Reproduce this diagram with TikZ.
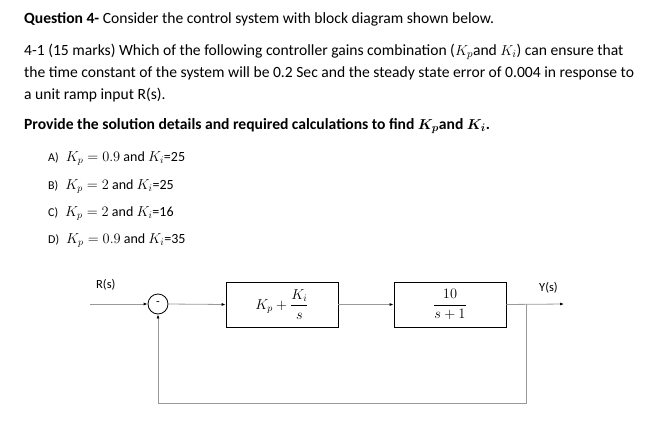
\documentclass[tikz,border=0pt]{standalone}
\usepackage{amsmath,bm}
\usepackage{fontspec}
\setmainfont{Carlito}
\usetikzlibrary{arrows.meta}
\begin{document}
\begin{tikzpicture}[x=1pt,y=-1pt,
  txt/.style={anchor=base west,inner sep=0pt,font=\fontsize{15.6}{18}\selectfont},
  opt/.style={anchor=base west,inner sep=0pt,font=\fontsize{14}{16}\selectfont},
  blk/.style={draw,line width=0.8pt,minimum width=112pt,minimum height=45pt,inner sep=0pt,font=\fontsize{14}{16}\selectfont},
  wire/.style={draw=gray!80,line width=0.8pt},
  arr/.style={wire,-{Latex[length=4pt,width=3pt,color=black]}}]
\useasboundingbox (0,0) rectangle (652,423);
\node[txt] (t1) at (24,23) {\textbf{Question 4-} Consider the control system with block diagram shown below.};
\node[txt] (t2) at (24,55) {4-1 (15 marks) Which of the following controller gains combination ($K_p$and $K_i$) can ensure that};
\node[txt] (t3) at (24,77) {the time constant of the system will be 0.2 Sec and the steady state error of 0.004 in response to};
\node[txt] (t4) at (24,99) {a unit ramp input R(s).};
\node[txt] (t5) at (24,129) {\textbf{Provide the solution details and required calculations to find $\bm{K_p}$and $\bm{K_i}$.}};
\node[opt] (a) at (48,161) {{\fontsize{12}{14}\selectfont A)}\enspace $K_p = 0.9$ and $K_i$=25};
\node[opt] (b) at (48,189) {{\fontsize{12}{14}\selectfont B)}\enspace $K_p = 2$ and $K_i$=25};
\node[opt] (c) at (48,216) {{\fontsize{12}{14}\selectfont C)}\enspace $K_p = 2$ and $K_i$=16};
\node[opt] (d) at (48,243) {{\fontsize{12}{14}\selectfont D)}\enspace $K_p = 0.9$ and $K_i$=35};
\coordinate (in) at (90,304);
\node[draw,circle,minimum size=20pt,inner sep=0pt,line width=0.8pt,font=\fontsize{12}{14}\selectfont] (sum) at (158,304) {-};
\node[blk] (g1) at (282,304.5) {$K_p+\dfrac{K_i}{s}$};
\node[blk] (g2) at (450,304.5) {$\dfrac{10}{s+1}$};
\coordinate (br) at (526,304);
\coordinate (out) at (564,304);
\coordinate (fb1) at (526,403);
\coordinate (fb2) at (158,403);
\node[opt,font=\fontsize{12.5}{14}\selectfont] (r) at (96,288) {R(s)};
\node[opt,font=\fontsize{12.5}{14}\selectfont] (y) at (539,291) {Y(s)};
\draw[arr] (in) -- (sum.west);
\draw[arr] (sum.east) -- (g1.west);
\draw[arr] (g1.east) -- (g2.west);
\draw[arr] (g2.east) -- (out);
\draw[arr] (br) -- (fb1) -- (fb2) -- (sum.south);
\end{tikzpicture}
\end{document}
